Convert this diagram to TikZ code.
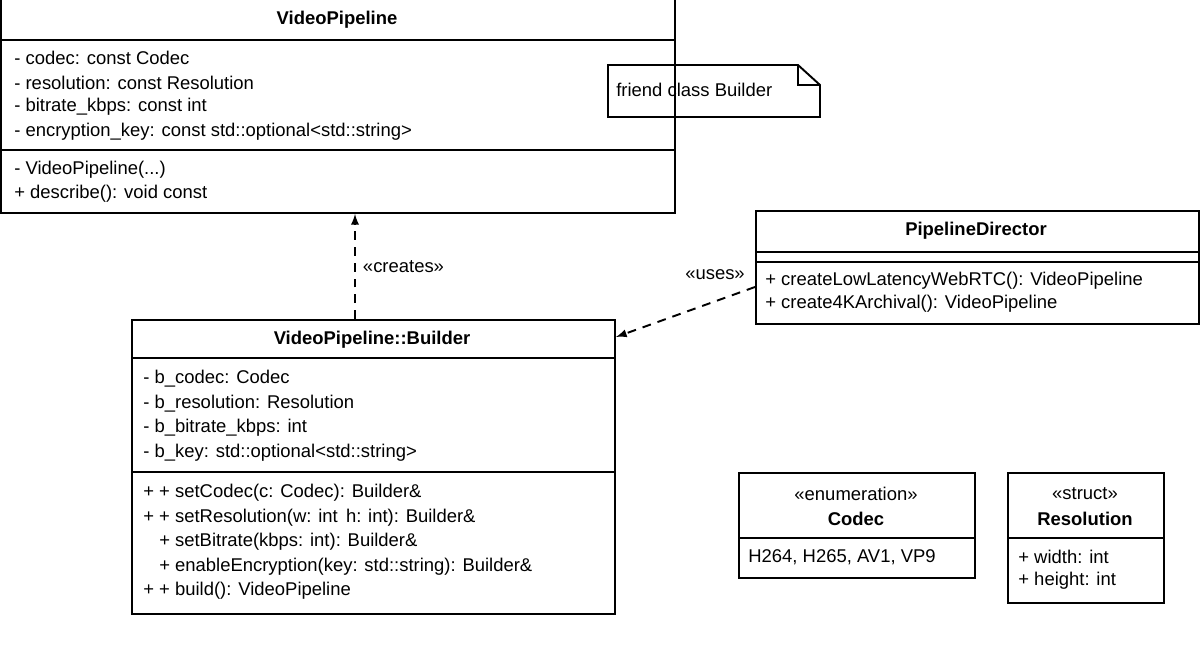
\documentclass[tikz,border=0pt]{standalone}
\usepackage{fontspec}
\setmainfont{Liberation Sans}
\usetikzlibrary{shapes.misc}
\begin{document}
\begin{tikzpicture}[x=0.02cm,y=-0.02cm,>=latex,font=\fontsize{10.5}{12}\selectfont]
      \tikzstyle{cls}=[draw=black,line width=1.1pt,inner sep=0pt,anchor=north west];
      \tikzstyle{txt}=[anchor=west,inner sep=0pt];
      \tikzstyle{ttl}=[inner sep=0pt,font=\fontsize{10.5}{12}\selectfont\bfseries];
      \tikzstyle{dep}=[->,dashed,line width=1.1pt,dash pattern=on 5pt off 4pt];

      \path[use as bounding box] (0,0) rectangle (1200,655);

      % VideoPipeline
      \node[cls,minimum width=674*0.02cm,minimum height=214*0.02cm](vp) at (0,-2) {};
      \node[ttl](vpT) at (337,20) {VideoPipeline};
      \draw[line width=1.1pt] (0,40) -- (674,40);
      \draw[line width=1.1pt] (0,150) -- (674,150);
      \foreach \t [count=\i from 0] in {- codec: const Codec, - resolution: const Resolution, - bitrate\_kbps: const int, - encryption\_key: const std::optional<std::string>}
        \node[txt] at (14,58+24.5*\i) {\t};
      \node[txt] at (14,170) {- VideoPipeline(...)};
      \node[txt] at (14,194) {+ describe(): void const};

      % note
      \node[inner sep=0pt](note) at (714,90) {};
      \draw[line width=1.1pt] (608,65) -- (798,65) -- (820,85) -- (820,117) -- (608,117) -- cycle;
      \draw[line width=1.1pt] (798,65) -- (798,85) -- (820,85);
      \node[txt] at (616,90) {friend class Builder};

      % PipelineDirector
      \node[cls,minimum width=443*0.02cm,minimum height=113*0.02cm](dir) at (755,210) {};
      \node[ttl] at (976,231) {PipelineDirector};
      \draw[line width=1.1pt] (755,252) -- (1198,252);
      \draw[line width=1.1pt] (755,262) -- (1198,262);
      \node[txt] at (765,281) {+ createLowLatencyWebRTC(): VideoPipeline};
      \node[txt] at (765,304) {+ create4KArchival(): VideoPipeline};

      % Builder
      \node[cls,minimum width=483*0.02cm,minimum height=294*0.02cm](bld) at (131,319) {};
      \node[ttl] at (372,340) {VideoPipeline::Builder};
      \draw[line width=1.1pt] (131,358) -- (614,358);
      \draw[line width=1.1pt] (131,472) -- (614,472);
      \foreach \t [count=\i from 0] in {- b\_codec: Codec, - b\_resolution: Resolution, - b\_bitrate\_kbps: int, - b\_key: std::optional<std::string>}
        \node[txt] at (143,379+24.5*\i) {\t};
      \foreach \t [count=\i from 0] in {+ + setCodec(c: Codec): Builder\&, + + setResolution(w: int\, h: int): Builder\&, \phantom{+ }+ setBitrate(kbps: int): Builder\&, \phantom{+ }+ enableEncryption(key: std::string): Builder\&, + + build(): VideoPipeline}
        \node[txt] at (143,493+24.5*\i) {\t};

      % Codec
      \node[cls,minimum width=236*0.02cm,minimum height=105*0.02cm](codec) at (738,472) {};
      \node[inner sep=0pt] at (856,494) {<<enumeration>>};
      \node[ttl] at (856,519) {Codec};
      \draw[line width=1.1pt] (738,538) -- (974,538);
      \node[txt] at (748,557) {H264, H265, AV1, VP9};

      % Resolution
      \node[cls,minimum width=156*0.02cm,minimum height=130*0.02cm](res) at (1007,472) {};
      \node[inner sep=0pt] at (1085,494) {<<struct>>};
      \node[ttl] at (1085,519) {Resolution};
      \draw[line width=1.1pt] (1007,538) -- (1163,538);
      \node[txt] at (1018,557) {+ width: int};
      \node[txt] at (1018,581) {+ height: int};

      % dependencies
      \draw[dep] (bld.north -| 355,0) -- (vp.south -| 355,0) node[midway,right=4pt,inner sep=0pt] {«creates»};
      \draw[dep] (dir.west |- 0,287) -- (bld.east |- 0,337);
      \node[inner sep=0pt] at (715,275) {«uses»};
\end{tikzpicture}
\end{document}
